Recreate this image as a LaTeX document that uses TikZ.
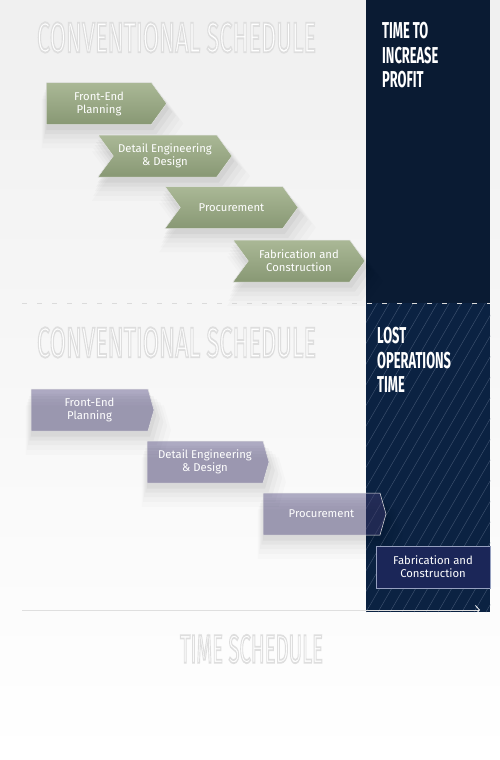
\documentclass[tikz,border=0pt]{standalone}
\usepackage{fontspec}
\setmainfont{Fira Sans}
\newfontfamily\headfont[FakeStretch=0.56]{Fira Sans}
\usetikzlibrary{shapes.symbols, arrows.meta, positioning, calc, shadows}

\definecolor{paneltop}{RGB}{10,27,51}
\definecolor{panellow}{RGB}{11,34,66}
\definecolor{hatchline}{RGB}{58,78,108}
\definecolor{greentop}{RGB}{170,184,150}
\definecolor{greenbot}{RGB}{136,152,116}
\definecolor{purplebase}{RGB}{70,62,120}
\definecolor{fabfill}{RGB}{27,38,88}
\definecolor{fabborder}{RGB}{150,160,192}

% hollow display lettering for the headings (white fill, pale stroke)
\newcommand{\outlinetext}[3]{\resizebox{#1}{#2}{\special{pdf:literal direct 0.87 G 0.45 w 2 Tr}#3\special{pdf:literal direct 0 Tr}}}

\begin{document}
\begin{tikzpicture}[x=1pt, y=-1pt,
    % Define styles
    softshadow/.style={drop shadow={shadow xshift=1pt, shadow yshift=-5pt, shadow scale=1.02, opacity=0.035, fill=black},
                       drop shadow={shadow xshift=2pt, shadow yshift=-8pt, shadow scale=1.06, opacity=0.03, fill=black},
                       drop shadow={shadow xshift=3pt, shadow yshift=-11pt, shadow scale=1.1, opacity=0.025, fill=black},
                       drop shadow={shadow xshift=4pt, shadow yshift=-14pt, shadow scale=1.14, opacity=0.02, fill=black},
                       drop shadow={shadow xshift=5pt, shadow yshift=-17pt, shadow scale=1.18, opacity=0.015, fill=black}},
    stepbox/.style={signal, signal to=east, draw=white!78!gray, line width=0.5pt, minimum height=42pt, inner sep=2pt, align=center, text=white, font=\fontsize{11.3}{13}\selectfont, softshadow},
    hexa/.style={signal from=west},
    greenstep/.style={stepbox, top color=greentop, bottom color=greenbot, signal pointer angle=108},
    purplestep/.style={stepbox, fill=purplebase, fill opacity=0.42, text opacity=1, signal pointer angle=148},
    fabbox/.style={rectangle, fill=fabfill, draw=fabborder, line width=0.5pt, minimum width=114pt, minimum height=42pt, align=center, text=white, font=\fontsize{11.3}{13}\selectfont},
    heading/.style={inner sep=0pt, text=white},
    paneltext/.style={inner sep=0pt, align=left, text=white, font=\headfont\bfseries\fontsize{23}{24.5}\selectfont},
    separator/.style={white!72!gray, line width=0.8pt, dash pattern=on 5pt off 10pt},
    axis/.style={gray!25, line width=0.8pt, -{Straight Barb[white, length=4pt, width=9pt]}},
    ]

    \useasboundingbox (0,0) rectangle (500,760);
    \shade[top color=black!6, bottom color=white] (0,0) rectangle (500,760);

    % Right panels
    \fill[paneltop] (366,0) rectangle (490,303);
    \fill[panellow] (366,303) rectangle (490,612);
    \begin{scope}
        \clip (366,303) rectangle (490,612);
        \foreach \k in {-16,...,12}
            \draw[hatchline, line width=0.5pt] (366+\k*12,612) -- ++(180,-310);
    \end{scope}

    % Separator and time axis
    \coordinate (sep west) at (22,303);
    \coordinate (sep east) at (490,303);
    \draw[separator] (sep west) -- (sep east);
    \coordinate (axis west) at (22,610);
    \coordinate (axis east) at (480,610);
    \draw[axis] (axis west) -- (axis east);

    % Headings
    \node[heading] (conv top) at (176.5,37.5) {\outlinetext{279pt}{30pt}{CONVENTIONAL SCHEDULE}};
    \node[heading] (conv low) at (176.5,342.5) {\outlinetext{279pt}{30pt}{CONVENTIONAL SCHEDULE}};
    \node[heading] (time sched) at (251.5,649) {\outlinetext{143pt}{28pt}{TIME SCHEDULE}};

    % Panel labels
    \node[paneltext, anchor=north west] (profit) at (382,22) {TIME TO\\INCREASE\\PROFIT};
    \node[paneltext, anchor=north west] (lost) at (377,327) {LOST\\OPERATIONS\\TIME};

    % Upper schedule
    \node[greenstep, minimum width=120pt] (g plan) at (99,103.5) {Front-End\\Planning};
    \node[greenstep, hexa, minimum width=134pt] (g design) at (165,156) {Detail Engineering\\\& Design};
    \node[greenstep, hexa, minimum width=133pt] (g proc) at (231.5,207.5) {Procurement};
    \node[greenstep, hexa, minimum width=132pt] (g fab) at (299,261) {Fabrication and\\Construction};

    % Lower schedule
    \node[purplestep, minimum width=123pt] (p plan) at (89.5,410) {Front-End\\Planning};
    \node[purplestep, minimum width=122pt] (p design) at (205,462) {Detail Engineering\\\& Design};
    \node[purplestep, minimum width=123pt] (p proc) at (321.5,514) {Procurement};
    \node[fabbox] (p fab) at (433,567) {Fabrication and\\Construction};

\end{tikzpicture}
\end{document}
